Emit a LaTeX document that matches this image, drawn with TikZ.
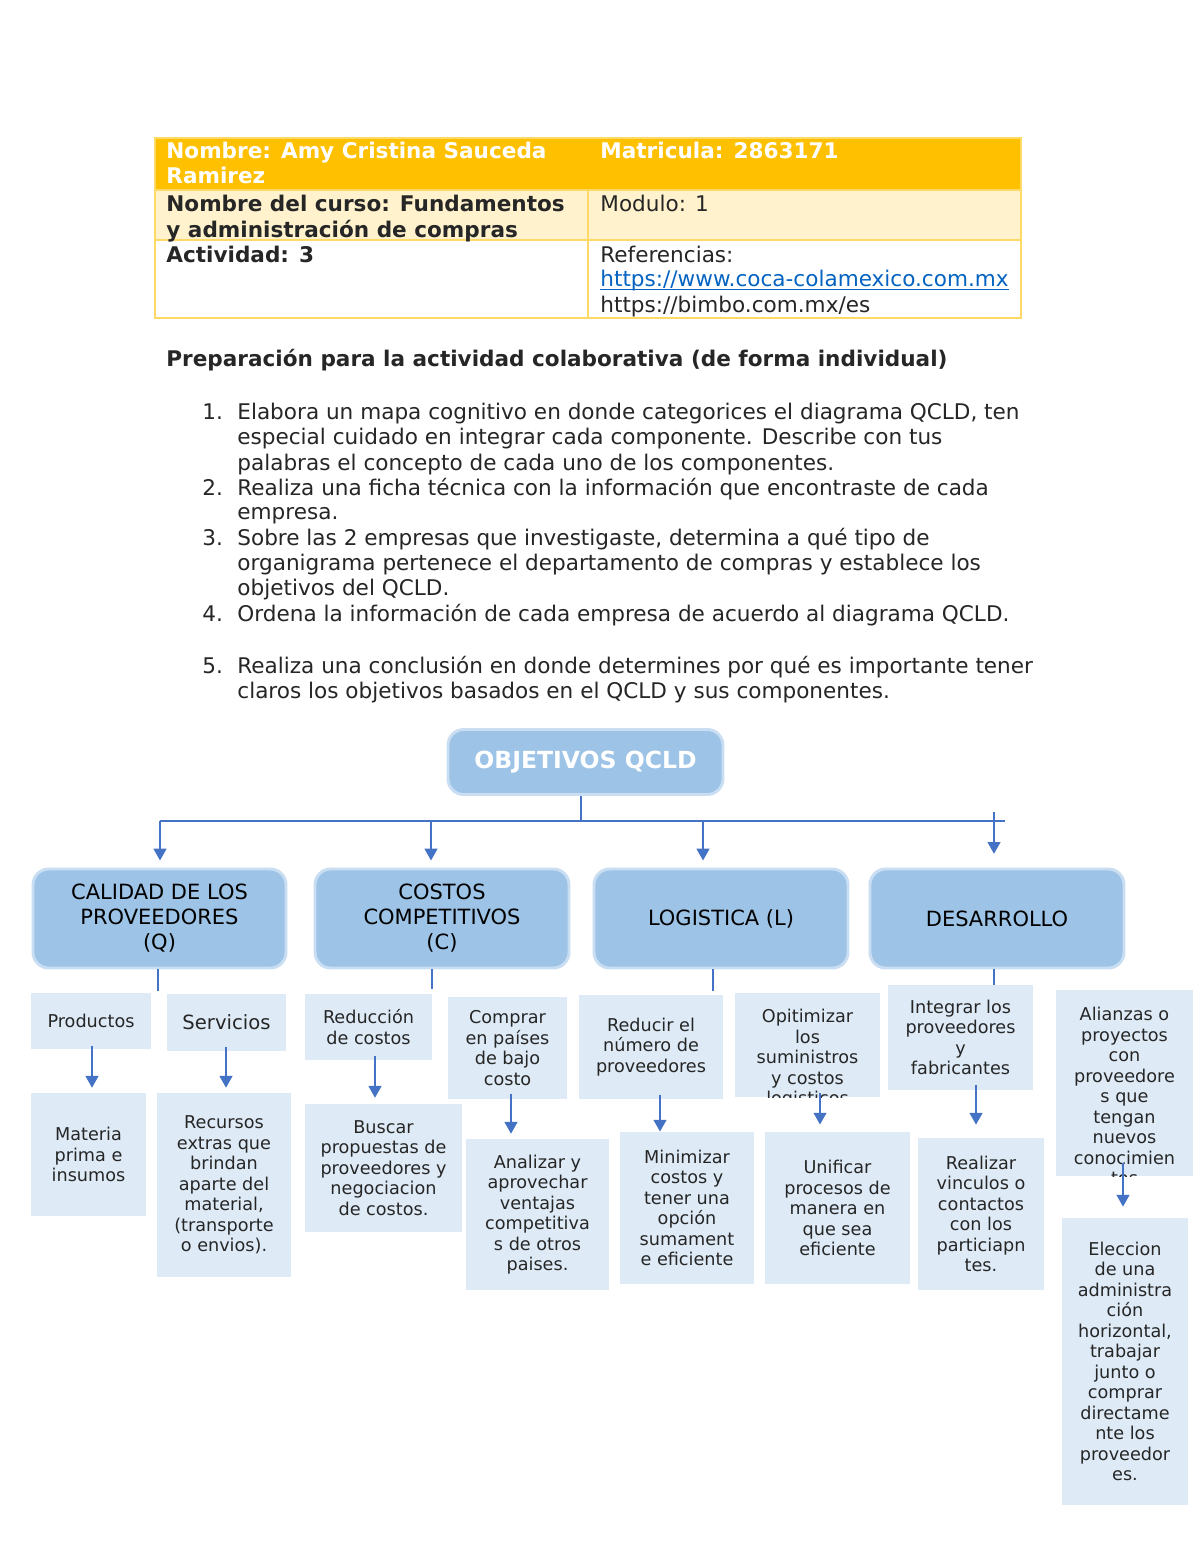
\documentclass[tikz,border=0pt]{standalone}
\usepackage{fontspec}
\setmainfont{DejaVu Sans}
\usetikzlibrary{arrows.meta}
\definecolor{qorange}{HTML}{FFC000}
\definecolor{qlight}{HTML}{FFF2CC}
\definecolor{qborder}{HTML}{FFD966}
\definecolor{catfill}{HTML}{9DC3E6}
\definecolor{catborder}{HTML}{C9DEF2}
\definecolor{boxfill}{HTML}{DEEBF7}
\definecolor{lineblue}{HTML}{4472C4}
\definecolor{linkblue}{HTML}{0563C1}
\definecolor{bodytext}{HTML}{262626}
\newcommand\txtline[4]{\node[txt] (#1) at (#2,#3) {#4};}
\newcommand\btxtline[4]{\node[txt,font=\fontsize{11}{12.75}\selectfont\bfseries] (#1) at (#2,#3) {#4};}
\begin{document}
\begin{tikzpicture}[x=0.51pt,y=-0.51pt,
  txt/.style={inner sep=0pt, anchor=base west, text=bodytext, font=\fontsize{11}{12.75}\selectfont},
  bw/.style={minimum width=#1*0.51pt},
  bh/.style={minimum height=#1*0.51pt},
  sbox/.style={fill=boxfill, draw=none, inner sep=0pt, align=center, text=bodytext, font=\fontsize{9}{10.45}\selectfont},
  stext/.style={inner sep=0pt, align=center, text=bodytext, font=\fontsize{9}{10.45}\selectfont},
  cat/.style={fill=catfill, draw=catborder, line width=1.5pt, rounded corners=8pt, inner sep=0pt, align=center, text=black, font=\fontsize{10.7}{12.75}\selectfont},
  ln/.style={draw=lineblue, line width=1pt},
  arr/.style={ln, -{Triangle[width=6.5pt,length=6pt]}}
]
\useasboundingbox (0,0) rectangle (1200,1553);
\fill[white] (0,0) rectangle (1200,1553);

% ---------- header table ----------
\fill[qorange] (155,138) rectangle (1021,190);
\fill[qlight] (155,190) rectangle (1021,240);
\fill[white] (155,240) rectangle (1021,318);
\draw[qborder, line width=0.7pt] (155,138) rectangle (1021,318);
\draw[qborder, line width=0.7pt] (155,190) -- (1021,190);
\draw[qborder, line width=0.7pt] (155,240) -- (1021,240);
\draw[qborder, line width=0.7pt] (588,190) -- (588,318);

\node[txt,text=white,font=\fontsize{11}{12.75}\selectfont\bfseries] (h1a) at (166,159) {Nombre: Amy Cristina Sauceda};
\node[txt,text=white,font=\fontsize{11}{12.75}\selectfont\bfseries] (h1b) at (166,184) {Ramirez};
\node[txt,text=white,font=\fontsize{11}{12.75}\selectfont\bfseries] (h1c) at (600,159) {Matricula: 2863171};
\btxtline{h2a}{166}{212}{Nombre del curso: Fundamentos}
\btxtline{h2b}{166}{237}{y administración de compras}
\txtline{h2c}{600}{212}{Modulo: 1}
\btxtline{h3a}{166}{262}{Actividad: 3}
\txtline{h3b}{600}{262}{Referencias:}
\node[txt,text=linkblue] (h3c) at (600,287) {https://www.coca-colamexico.com.mx};
\draw[linkblue, line width=0.55pt] ([yshift=-1.5pt]h3c.base west) -- ([yshift=-1.5pt]h3c.base east);
\txtline{h3d}{600}{312}{https://bimbo.com.mx/es}

% ---------- instructions ----------
\btxtline{head}{166}{366}{Preparación para la actividad colaborativa (de forma individual)}
\txtline{n1}{202}{419}{1.}
\txtline{l1a}{237}{419}{Elabora un mapa cognitivo en donde categorices el diagrama QCLD, ten}
\txtline{l1b}{237}{444}{especial cuidado en integrar cada componente. Describe con tus}
\txtline{l1c}{237}{470}{palabras el concepto de cada uno de los componentes.}
\txtline{n2}{202}{495}{2.}
\txtline{l2a}{237}{495}{Realiza una ficha técnica con la información que encontraste de cada}
\txtline{l2b}{237}{519}{empresa.}
\txtline{n3}{202}{545}{3.}
\txtline{l3a}{237}{545}{Sobre las 2 empresas que investigaste, determina a qué tipo de}
\txtline{l3b}{237}{570}{organigrama pertenece el departamento de compras y establece los}
\txtline{l3c}{237}{595}{objetivos del QCLD.}
\txtline{n4}{202}{621}{4.}
\txtline{l4a}{237}{621}{Ordena la información de cada empresa de acuerdo al diagrama QCLD.}
\txtline{n5}{202}{673}{5.}
\txtline{l5a}{237}{673}{Realiza una conclusión en donde determines por qué es importante tener}
\txtline{l5b}{237}{698}{claros los objetivos basados en el QCLD y sus componentes.}

% ---------- diagram: top ----------
\node[cat, bw=275, bh=65, text=white, font=\fontsize{12}{14}\selectfont\bfseries] (obj) at (585.5,762) {OBJETIVOS QCLD};

\node[cat, bw=253, bh=99] (cal) at (159.5,918.5) {CALIDAD DE LOS\\PROVEEDORES\\(Q)};
\node[cat, bw=254, bh=99] (cos) at (442,918.5) {COSTOS\\COMPETITIVOS\\(C)};
\node[cat, bw=254, bh=99] (log) at (721,918.5) {LOGISTICA (L)};
\node[cat, bw=254, bh=99] (des) at (997,918.5) {DESARROLLO};

\coordinate (busL) at (160,821);
\coordinate (busC) at (431,821);
\coordinate (busM) at (581,821);
\coordinate (busG) at (703,821);
\coordinate (busR) at (1005,821);
\coordinate (dtop) at (994,812);
\draw[ln] (busM |- obj.south) -- (busM);
\draw[ln] (busL) -- (busR);
\draw[arr, shorten >=3.6pt] (busL) -- (busL |- cal.north);
\draw[arr, shorten >=3.6pt] (busC) -- (busC |- cos.north);
\draw[arr, shorten >=3.6pt] (busG) -- (busG |- log.north);
\draw[arr, shorten >=7pt] (dtop) -- (dtop |- des.north);

% stubs below categories
\draw[ln] ([xshift=-0.8pt]cal.south) -- ++(0,22);
\draw[ln] ([xshift=-5.1pt]cos.south) -- ++(0,20);
\draw[ln] ([xshift=-4pt]log.south) -- ++(0,22);
\draw[ln] ([xshift=-1.5pt]des.south) -- ++(0,18);

% ---------- small boxes ----------
\node[sbox, bw=120, bh=56] (prod) at (91,1021) {Productos};
\node[sbox, bw=119, bh=57, font=\fontsize{10}{12}\selectfont] (serv) at (226.5,1022.5) {Servicios};
\node[sbox, bw=115, bh=123] (mat) at (88.5,1154.5) {Materia\\prima e\\insumos};
\node[sbox, bw=134, bh=184] (rec) at (224,1185) {Recursos\\extras que\\brindan\\aparte del\\material,\\(transporte\\o envios).};
\node[sbox, bw=127, bh=66] (red) at (368.5,1027) {Reducción\\de costos};
\node[sbox, bw=157, bh=128] (bus) at (383.5,1168) {Buscar\\propuestas de\\proveedores y\\negociacion\\de costos.};
\node[sbox, bw=119, bh=102] (comp) at (507.5,1048) {Comprar\\en países\\de bajo\\costo};
\node[sbox, bw=143, bh=151] (anal) at (537.5,1214.5) {Analizar y\\aprovechar\\ventajas\\competitiva\\s de otros\\paises.};
\node[sbox, bw=144, bh=104] (redu) at (651,1047) {Reducir el\\número de\\proveedores};
\node[sbox, bw=134, bh=152] (mini) at (687,1208) {Minimizar\\costos y\\tener una\\opción\\sumament\\e eficiente};
\node[sbox, bw=145, bh=104] (opti) at (807.5,1045) {};
\begin{scope}
  \clip (opti.south west) rectangle (opti.north east);
  \node[stext] (optit) at (807.5,1059) {Opitimizar\\los\\suministros\\y costos\\logisticos};
\end{scope}
\node[sbox, bw=145, bh=152] (unif) at (837.5,1208) {Unificar\\procesos de\\manera en\\que sea\\eficiente};
\node[sbox, bw=145, bh=105] (integ) at (960.5,1037.5) {Integrar los\\proveedores\\y\\fabricantes};
\node[sbox, bw=126, bh=152] (real) at (981,1214) {Realizar\\vinculos o\\contactos\\con los\\particiapn\\tes.};
\node[sbox, bw=137, bh=186] (alia) at (1124.5,1083) {};
\begin{scope}
  \clip (alia.south west) rectangle (alia.north east);
  \node[stext] (aliat) at (1124.5,1096) {Alianzas o\\proyectos\\con\\proveedore\\s que\\tengan\\nuevos\\conocimien\\tos};
\end{scope}
\node[sbox, bw=126, bh=287] (elec) at (1125,1361.5) {Eleccion\\de una\\administra\\ción\\horizontal,\\trabajar\\junto o\\comprar\\directame\\nte los\\proveedor\\es.};

% ---------- small arrows ----------
\coordinate (xa) at (92,0);
\coordinate (xb) at (226,0);
\coordinate (xc) at (375,0);
\coordinate (xd) at (511,0);
\coordinate (xe) at (660,0);
\coordinate (xf) at (820,0);
\coordinate (xg) at (976,0);
\coordinate (xh) at (1123,0);
\draw[arr, shorten <=-1.5pt, shorten >=2.5pt] (xa |- prod.south) -- (xa |- mat.north);
\draw[arr, shorten <=-2.5pt, shorten >=2.5pt] (xb |- serv.south) -- (xb |- rec.north);
\draw[arr, shorten <=-2pt, shorten >=3pt] (xc |- red.south) -- (xc |- bus.north);
\draw[arr, shorten <=-3pt, shorten >=2.5pt] (xd |- comp.south) -- (xd |- anal.north);
\draw[arr, shorten <=-2.5pt, shorten >=0pt] (xe |- redu.south) -- (xe |- mini.north);
\draw[arr, shorten <=-2pt, shorten >=3.6pt] (xf |- opti.south) -- (xf |- unif.north);
\draw[arr, shorten <=-3pt, shorten >=6.6pt] (xg |- integ.south) -- (xg |- real.north);
\draw[arr, shorten <=-6.6pt, shorten >=5.6pt] (xh |- alia.south) -- (xh |- elec.north);
\end{tikzpicture}
\end{document}
